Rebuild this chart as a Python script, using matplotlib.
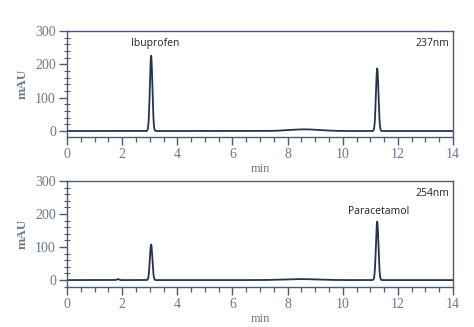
import numpy as np
import matplotlib
matplotlib.use("Agg")
import matplotlib.pyplot as plt
from matplotlib.ticker import MultipleLocator

# Peak parameters: retention time (min), height (mAU), sigma (min)
top_rt = [3.05, 8.6, 11.25]
top_h = [226, 5, 188]
top_sig = [0.045, 0.55, 0.045]

bot_rt = [1.85, 3.05, 8.5, 11.25]
bot_h = [3, 108, 3, 177]
bot_sig = [0.04, 0.045, 0.6, 0.045]

top_label = "Ibuprofen"
top_label_pos = (3.2, 262)
bot_label = "Paracetamol"
bot_label_pos = (11.3, 207)
wavelengths = ["237nm", "254nm"]

x_ticks = [0, 2, 4, 6, 8, 10, 12, 14]
y_ticks = [0, 100, 200, 300]

axcol = "#4a5a78"
labcol = "#6a7890"
linecol = "#26334f"

t = np.linspace(0, 14, 2801)

def trace(rts, hs, sigs):
    y = np.zeros_like(t)
    for r, h, s in zip(rts, hs, sigs):
        y += h * np.exp(-0.5 * ((t - r) / s) ** 2)
    return y

fig = plt.figure(figsize=(4.74, 3.27), dpi=100)
ax1 = fig.add_axes([0.1414, 0.581, 0.8143, 0.324])
ax2 = fig.add_axes([0.1414, 0.1223, 0.8143, 0.324])

panels = [
    (ax1, trace(top_rt, top_h, top_sig), top_label, top_label_pos, wavelengths[0], (-18, 300)),
    (ax2, trace(bot_rt, bot_h, bot_sig), bot_label, bot_label_pos, wavelengths[1], (-21, 300)),
]

for ax, y, lab, lpos, wl, yl in panels:
    ax.plot(t, y, color=linecol, lw=1.3)
    ax.set_xlim(0, 14)
    ax.set_ylim(*yl)
    ax.set_xticks(x_ticks)
    ax.set_yticks(y_ticks)
    ax.xaxis.set_minor_locator(MultipleLocator(0.5))
    ax.yaxis.set_minor_locator(MultipleLocator(20))
    for s in ax.spines.values():
        s.set_color(axcol)
        s.set_linewidth(1.0)
    ax.tick_params(axis="both", which="major", direction="out", length=6, width=1.0,
                   color=axcol, labelcolor=labcol, labelsize=10, pad=2)
    ax.tick_params(axis="x", which="minor", direction="out", length=3.5, width=0.9, color=axcol)
    ax.tick_params(axis="y", which="minor", direction="inout", length=4, width=0.8, color=axcol)
    for tl in ax.get_xticklabels() + ax.get_yticklabels():
        tl.set_family("Liberation Serif")
    ax.set_xlabel("min", family="Liberation Serif", fontsize=9, color=labcol, labelpad=1)
    ax.set_ylabel("mAU", family="Liberation Serif", fontsize=9.5, color=labcol,
                  fontweight="bold", labelpad=5)
    ax.text(lpos[0], lpos[1], lab, ha="center", va="center", fontsize=7.5,
            family="Open Sans", color="#222222")
    ax.text(0.99, 0.93, wl, transform=ax.transAxes, ha="right", va="top", fontsize=7.5,
            family="Open Sans", color="#222222")

fig.savefig("out.png", dpi=100)
